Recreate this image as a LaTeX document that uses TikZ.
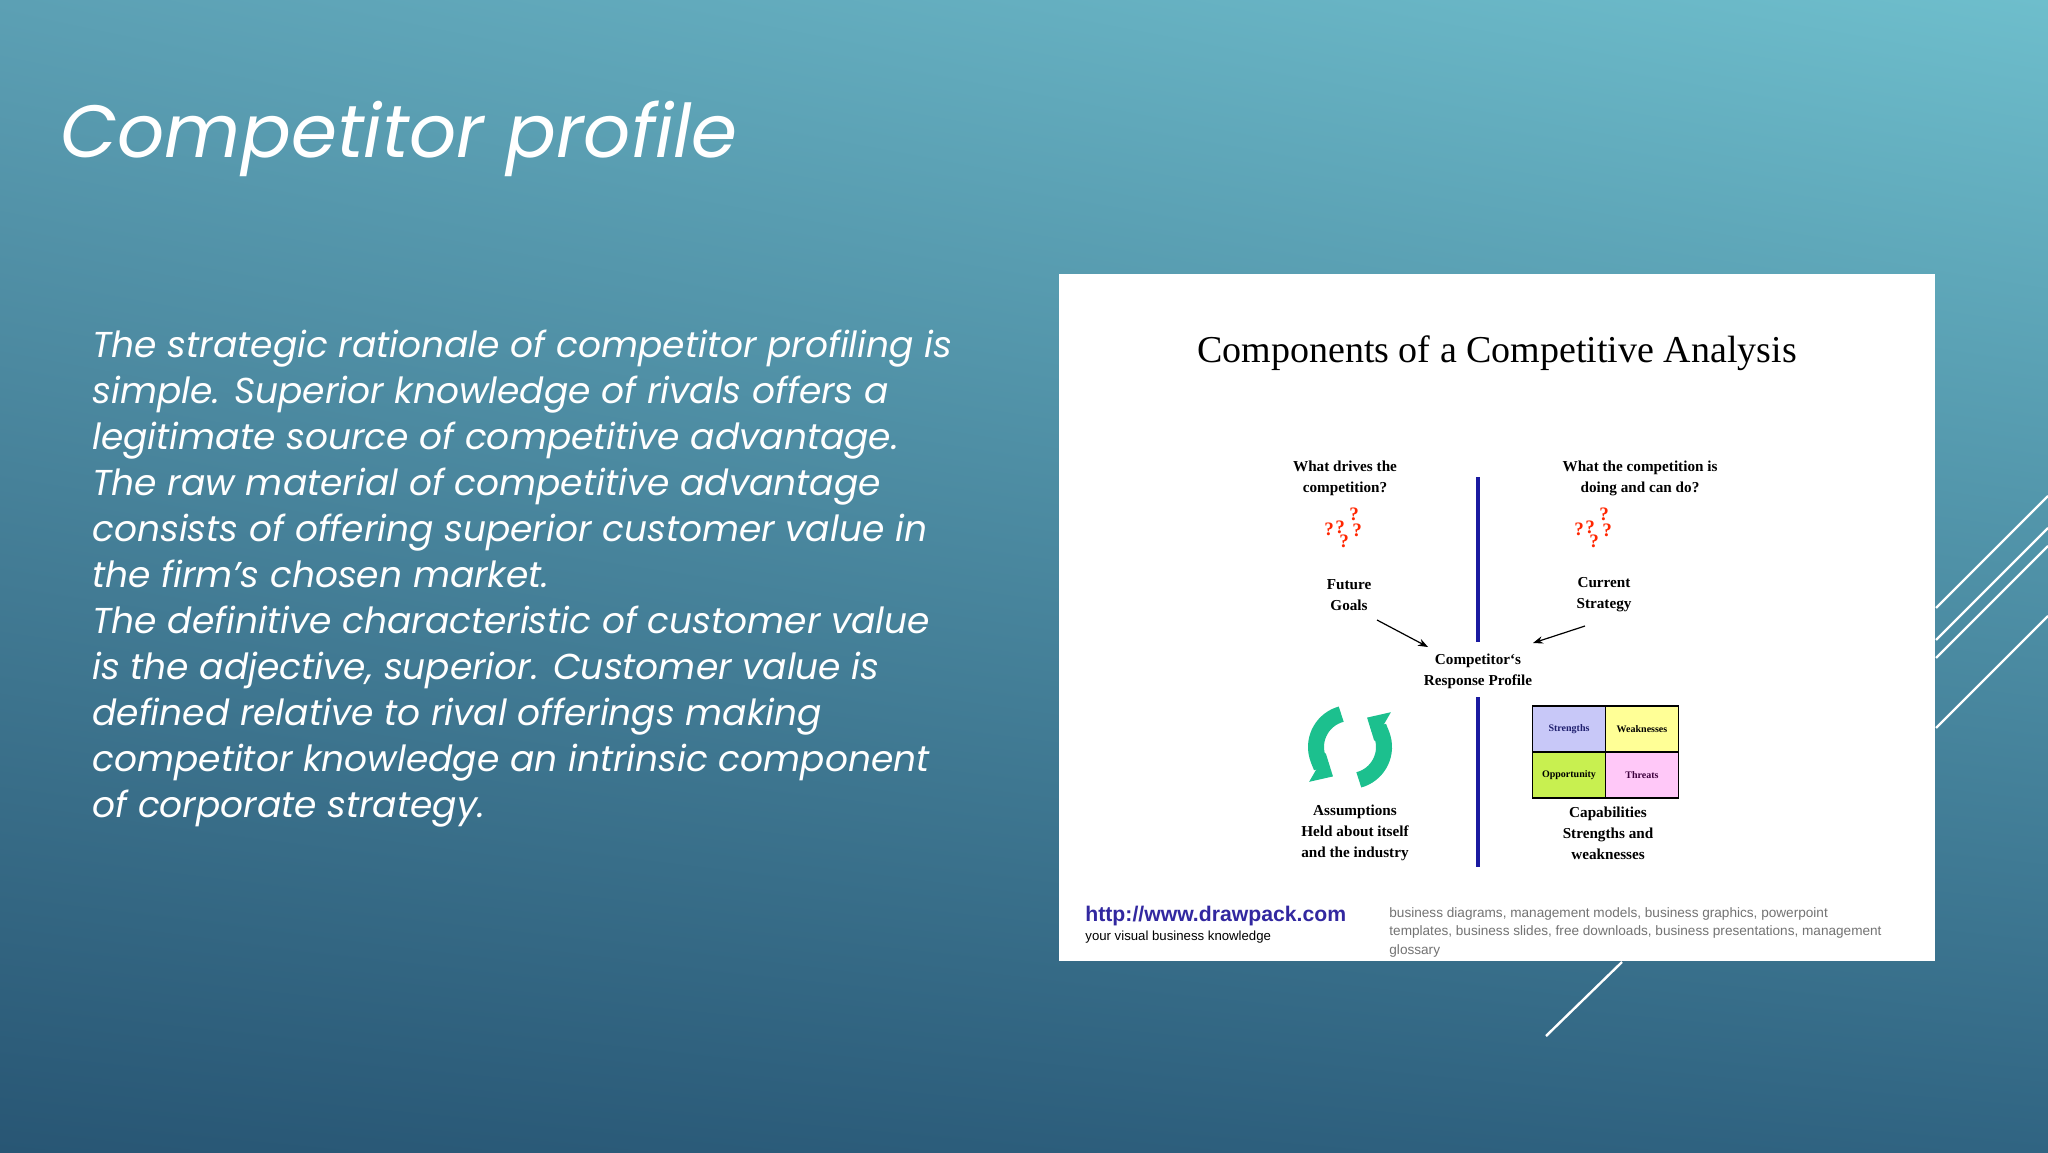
\documentclass[tikz,border=0pt]{standalone}
\usepackage{fontspec}
\setmainfont{Liberation Serif}
\newfontfamily\pop{Poppins}
\newfontfamily\arial{Liberation Sans}
\usetikzlibrary{arrows.meta,shadings}
\definecolor{bluebar}{HTML}{1A1AA0}
\definecolor{teal}{HTML}{1CC08E}
\definecolor{bgul}{RGB}{92,160,180}
\definecolor{bgur}{RGB}{110,190,204}
\definecolor{bgll}{RGB}{40,86,116}
\definecolor{bglr}{RGB}{48,100,130}
\definecolor{cS}{RGB}{200,200,248}
\definecolor{cW}{RGB}{255,255,150}
\definecolor{cO}{RGB}{200,240,80}
\definecolor{cT}{RGB}{255,200,248}
\definecolor{urlc}{RGB}{50,40,160}
\tikzset{
 lbl/.style={font=\bfseries\fontsize{7.6}{10.6}\selectfont,align=center,text=black},
 qm/.style={text=red!70!orange,font=\bfseries\fontsize{9.5}{9.5}\selectfont,inner sep=0},
 cell/.style={draw=black,line width=0.8pt,minimum width=36.5pt,minimum height=23pt,inner sep=0,font=\bfseries\fontsize{5}{5}\selectfont},
 deco/.style={white,line width=1.2pt},
 ring/.style={teal,line width=8pt,-{Triangle[length=9pt,width=16pt]}},
}
\begin{document}
\begin{tikzpicture}[x=0.5pt,y=-0.5pt]
\useasboundingbox (0,0) rectangle (2048,1152);
\shade[upper left=bgul,upper right=bgur,lower left=bgll,lower right=bglr] (0,0) rectangle (2048,1152);
\node[anchor=base west,text=white,font=\pop\itshape\fontsize{37}{37}\selectfont,inner sep=0] (title) at (60,157) {Competitor profile};
\node[anchor=north west,text=white,align=left,font=\pop\itshape\fontsize{18}{23}\selectfont,inner sep=0] (body) at (92,330) {The strategic rationale of competitor profiling is\\simple. Superior knowledge of rivals offers a\\legitimate source of competitive advantage.\\The raw material of competitive advantage\\consists of offering superior customer value in\\the firm’s chosen market.\\The definitive characteristic of customer value\\is the adjective, superior. Customer value is\\defined relative to rival offerings making\\competitor knowledge an intrinsic component\\of corporate strategy.};
% panel
\fill[white] (1059,274) rectangle (1935,961);
\node[anchor=base,font=\fontsize{19}{19}\selectfont,inner sep=0] (dtitle) at (1497,362) {Components of a Competitive Analysis};
\node[lbl] (q1) at (1345,478) {What drives the\\competition?};
\node[lbl] (q2) at (1640,478) {What the competition is\\doing and can do?};
\foreach \c in {1345,1595}{
 \node[qm] at (\c-16,529) {?};\node[qm] at (\c-5,527) {?};\node[qm] at (\c+9,514) {?};
 \node[qm] at (\c+12,530) {?};\node[qm] at (\c-1,541) {?};}
\draw[bluebar,line width=2pt] (1478,477) coordinate (vt1) -- (1478,642) coordinate (vb1);
\draw[bluebar,line width=2pt] (1478,697) coordinate (vt2) -- (1478,867) coordinate (vb2);
\node[lbl] (fg) at (1349,595) {Future\\Goals};
\node[lbl] (cs) at (1604,595) {Current\\Strategy};
\node[lbl] (crp) at (1478,671) {Competitor‘s\\Response Profile};
\coordinate (a1) at (1377,620); \coordinate (a1e) at (1428,647);
\coordinate (a2) at (1585,626); \coordinate (a2e) at (1533,643);
\draw[-{Stealth[length=5pt]},line width=0.6pt] (a1) -- (a1e);
\draw[-{Stealth[length=5pt]},line width=0.6pt] (a2) -- (a2e);
% recycle icon
\begin{scope}[shift={(1350,747)},yscale=-1]
\draw[ring] (105:34) arc (105:240:34);
\draw[ring] (285:34) arc (285:420:34);
\end{scope}
\node[cell,fill=cS,text={rgb,255:red,30;green,30;blue,110}] (s) at (1569,729) {Strengths};
\node[cell,fill=cW] (w) at (1642,729) {Weaknesses};
\node[cell,fill=cO] (o) at (1569,775) {Opportunity};
\node[cell,fill=cT,text={rgb,255:red,60;green,0;blue,60}] (t) at (1642,775) {Threats};
\node[lbl] (cap) at (1608,833) {Capabilities\\Strengths and\\weaknesses};
\node[lbl] (asm) at (1355,833) {Assumptions\\Held about itself\\and the industry};
\node[anchor=base west,inner sep=0,font=\arial\bfseries\fontsize{10.6}{10.6}\selectfont,text=urlc] (url) at (1085,921) {http://www.drawpack.com};
\node[anchor=base west,inner sep=0,font=\arial\fontsize{6.6}{6.6}\selectfont] (tag) at (1085,940) {your visual business knowledge};
\node[anchor=north west,inner sep=0,align=left,font=\arial\fontsize{6.8}{9.2}\selectfont,text=black!55] (kw) at (1389,907) {business diagrams, management models, business graphics, powerpoint\\templates, business slides, free downloads, business presentations, management\\glossary};
% decoration
\draw[deco] (1936,608) -- (2048,496);
\draw[deco] (1936,640) -- (2048,528);
\draw[deco] (1936,658) -- (2048,546);
\draw[deco] (1936,728) -- (2048,616);
\draw[deco] (1546,1036) -- (1622,962);
\end{tikzpicture}
\end{document}
